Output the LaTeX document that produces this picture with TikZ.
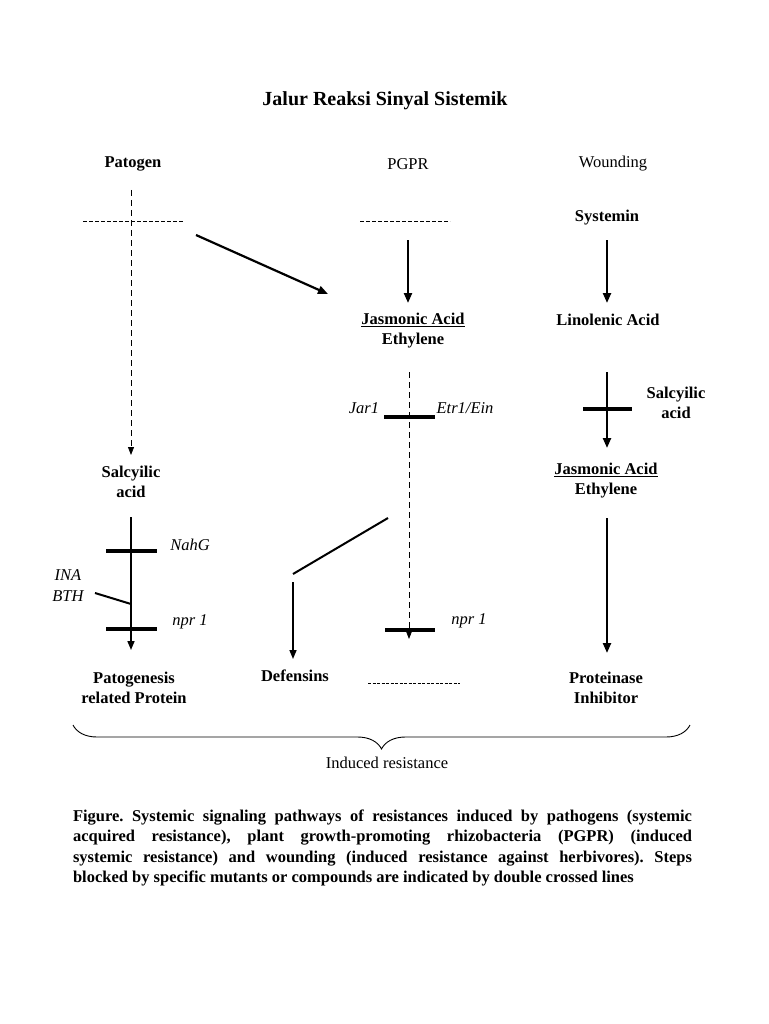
\documentclass[tikz,border=0pt]{standalone}
\usepackage{fontspec}
\setmainfont{Liberation Serif}
\usetikzlibrary{arrows.meta,decorations.pathreplacing}
\frenchspacing
\begin{document}
\begin{tikzpicture}[x=1pt,y=-1pt,
 every node/.style={inner sep=0pt},
 lbl/.style={font=\fontsize{16.5}{20}\selectfont\bfseries, align=center},
 plain/.style={font=\fontsize{16.5}{20}\selectfont, align=center},
 itl/.style={font=\fontsize{16.5}{21}\selectfont\itshape},
 arr/.style={line width=2.2pt, -{Triangle[length=10pt,width=8pt]}},
 thin arr/.style={line width=1.6pt, -{Triangle[length=9pt,width=7pt]}},
 darr/.style={line width=0.8pt, dash pattern=on 6pt off 4pt, -{Triangle[length=8pt,width=6pt]}},
 hdash/.style={line width=1pt, dash pattern=on 4pt off 2pt},
 blockbar/.style={line width=3.5pt},
 stroke/.style={line width=2pt},
]
\useasboundingbox[fill=white] (0,0) rectangle (768,1024);

% title and column heads
\node[font=\fontsize{20}{24}\selectfont\bfseries] (title) at (385,101) {Jalur Reaksi Sinyal Sistemik};
\node[lbl] (patogen) at (133,164) {Patogen};
\node[plain] (pgpr) at (408,164) {PGPR};
\node[plain] (wounding) at (613,164) {Wounding};

% ---------- Patogen column ----------
\coordinate (pdL) at (83,222);
\coordinate (pdR) at (183,222);
\draw[hdash] (pdL) -- (pdR);
\coordinate (pvTop) at (131,190);
\coordinate (pvBot) at (131,455);
\draw[darr] (pvTop) -- (pvBot);
\coordinate (diagS) at (196,235);
\coordinate (diagE) at (328,294);
\draw[arr] (diagS) -- (diagE);

\node[lbl] (sa1) at (131,482) {Salcyilic\\acid};
\coordinate (saTop) at (131,517);
\coordinate (saBot) at (131,650);
\draw[thin arr] (saTop) -- (saBot);
\coordinate (nahL) at (106,551);
\coordinate (nahR) at (157,551);
\draw[blockbar] (nahL) -- (nahR);
\node[itl] (nahg) at (190,545) {NahG};
\node[itl, align=center] (inabth) at (68,586) {INA\\BTH};
\coordinate (inaS) at (95,593);
\coordinate (inaE) at (131,604);
\draw[stroke] (inaS) -- (inaE);
\coordinate (npL) at (106,629);
\coordinate (npR) at (157,629);
\draw[blockbar] (npL) -- (npR);
\node[itl] (npr1a) at (190,622) {npr 1};
\node[lbl] (prp) at (134,688) {Patogenesis\\related Protein};

% ---------- PGPR column ----------
\coordinate (gdL) at (360,222);
\coordinate (gdR) at (450,222);
\draw[hdash] (gdL) -- (gdR);
\coordinate (gTop) at (408,240);
\coordinate (gBot) at (408,303);
\draw[arr] (gTop) -- (gBot);
\node[lbl] (jae1) at (413,331) {\underline{Jasmonic Acid}\\Ethylene};
\coordinate (gvTop) at (409,372);
\coordinate (gvBot) at (409,639);
\draw[darr] (gvTop) -- (gvBot);
\coordinate (jarL) at (384,417);
\coordinate (jarR) at (435,417);
\draw[blockbar] (jarL) -- (jarR);
\node[itl] (jar1) at (364,408) {Jar1};
\node[itl] (etr) at (465,408) {Etr1/Ein};
\coordinate (npgL) at (385,630);
\coordinate (npgR) at (435,630);
\draw[blockbar] (npgL) -- (npgR);
\node[itl] (npr1b) at (469,621) {npr 1};
\coordinate (ldL) at (368,683);
\coordinate (ldR) at (460,683);
\draw[line width=0.8pt, dash pattern=on 3pt off 1.5pt] (ldL) -- (ldR);

% defensins branch
\coordinate (dfA) at (388,518);
\coordinate (dfB) at (293,574);
\draw[stroke] (dfA) -- (dfB);
\coordinate (dfTop) at (293,582);
\coordinate (dfBot) at (293,659);
\draw[thin arr] (dfTop) -- (dfBot);
\node[lbl] (def) at (295,676) {Defensins};

% ---------- Wounding column ----------
\node[lbl] (sys) at (607,218) {Systemin};
\coordinate (wTop) at (607,240);
\coordinate (wBot) at (607,303);
\draw[arr] (wTop) -- (wBot);
\node[lbl] (lin) at (608,320) {Linolenic Acid};
\coordinate (w2Top) at (607,372);
\coordinate (w2Bot) at (607,448);
\draw[arr] (w2Top) -- (w2Bot);
\coordinate (wbL) at (583,409);
\coordinate (wbR) at (632,409);
\draw[blockbar] (wbL) -- (wbR);
\node[lbl] (sa2) at (676,403) {Salcyilic\\acid};
\node[lbl] (jae2) at (606,481) {\underline{Jasmonic Acid}\\Ethylene};
\coordinate (w3Top) at (607,518);
\coordinate (w3Bot) at (607,653);
\draw[arr] (w3Top) -- (w3Bot);
\node[lbl] (pi) at (606,688) {Proteinase\\Inhibitor};

% brace
\coordinate (brL) at (73,725);
\coordinate (brR) at (690,725);
\draw[line width=0.9pt, decorate, decoration={brace, amplitude=24pt, mirror}] (brL) -- (brR);
\node[plain] (ind) at (387,763) {Induced resistance};

% caption
\node[font=\fontsize{16.5}{20.4}\selectfont\bfseries, text width=619pt, align=justify] (cap) at (382.5,848)
{\hyphenpenalty=10000 \exhyphenpenalty=10000 Figure. Systemic signaling pathways of resistances induced by pathogens (systemic\linebreak acquired resistance), plant growth-promoting rhizobacteria (PGPR) (induced\linebreak systemic resistance) and wounding (induced resistance against herbivores). Steps\linebreak blocked by specific mutants or compounds are indicated by double crossed lines};
\end{tikzpicture}
\end{document}
